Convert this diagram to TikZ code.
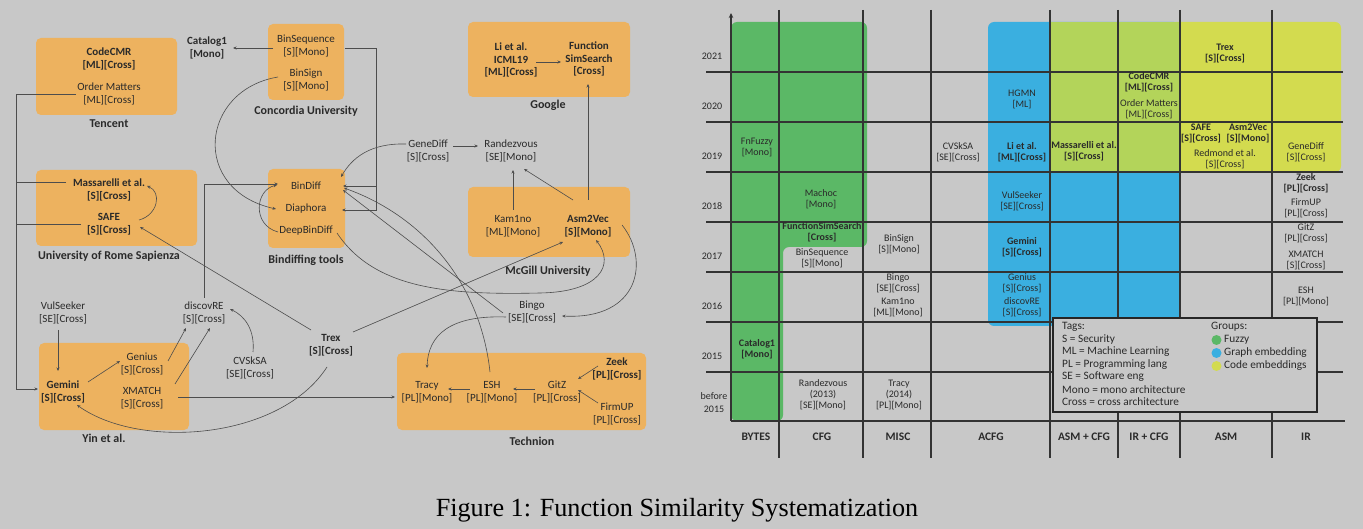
\documentclass[tikz,border=0pt]{standalone}
\usepackage{fontspec}
\setmainfont{Carlito}
\newfontfamily\capfont{Liberation Serif}
\usetikzlibrary{arrows.meta,calc}
\definecolor{bgc}{HTML}{C8C8C8}
\definecolor{orangebox}{HTML}{EDB25F}
\definecolor{gfill}{HTML}{5BB866}
\definecolor{bfill}{HTML}{3AAFE0}
\definecolor{ygfill}{HTML}{B3D45A}
\definecolor{yfill}{HTML}{D3DB4F}
\definecolor{txt}{HTML}{2A2A2A}
\definecolor{lc}{HTML}{4D4D4D}
\definecolor{gridc}{HTML}{333333}
\begin{document}
\begin{tikzpicture}[x=1pt,y=-1pt,
  lbl/.style={font=\fontsize{11}{12.8}\selectfont, align=center, inner sep=0pt, text=txt},
  blbl/.style={lbl, font=\fontsize{11}{12.8}\selectfont\bfseries},
  glbl/.style={font=\fontsize{12}{14}\selectfont\bfseries, inner sep=0pt, text=txt},
  cell/.style={font=\fontsize{10}{11}\selectfont, align=center, inner sep=0pt, text=txt},
  bcell/.style={cell, font=\fontsize{10}{11}\selectfont\bfseries},
  yr/.style={font=\fontsize{10}{13}\selectfont, align=center, inner sep=0pt, text=txt},
  colh/.style={font=\fontsize{11.5}{13}\selectfont\bfseries, inner sep=0pt, text=txt},
  leg/.style={font=\fontsize{11.3}{13}\selectfont, anchor=west, inner sep=0pt, text=txt},
  conn/.style={draw=lc, line width=0.6pt, -{Stealth[length=3.5pt,width=3pt]}},
  pl/.style={draw=lc, line width=0.6pt},
  gridl/.style={draw=gridc, line width=1.1pt},
  grp/.style={fill=orangebox, rounded corners=5pt}]
\useasboundingbox (0,0) rectangle (1363,529);
\fill[bgc] (0,0) rectangle (1363,529);

% ================= LEFT: groups =================
\fill[grp] (36,38) rectangle (177,115);
\fill[grp] (268,24) rectangle (344,100);
\fill[grp] (468,22) rectangle (630,97);
\fill[grp] (36,170) rectangle (197,246);
\fill[grp] (268,169) rectangle (345,248);
\fill[grp] (468,187) rectangle (630,257);
\fill[grp] (39,343) rectangle (189,430);
\fill[grp] (397,353) rectangle (646,430);

% nodes
\node[blbl] (codecmr) at (109,59) {CodeCMR\\{[ML][Cross]}};
\node[lbl] (ordermat) at (109,94) {Order Matters\\{[ML][Cross]}};
\node[glbl] (tencentL) at (109,124) {Tencent};
\node[blbl] (catalog) at (207,48) {Catalog1\\{[Mono]}};
\node[lbl] (binseq) at (306,46) {BinSequence\\{[S][Mono]}};
\node[lbl] (binsign) at (306,80) {BinSign\\{[S][Mono]}};
\node[glbl] (concordiaL) at (306,111) {Concordia University};
\node[blbl] (liicml) at (511,60) {Li et al.\\ICML19\\{[ML][Cross]}};
\node[blbl] (funcsim) at (589,59) {Function\\SimSearch\\{[Cross]}};
\node[glbl] (googleL) at (548,105) {Google};
\node[blbl] (massarelli) at (109,190) {Massarelli et al.\\{[S][Cross]}};
\node[blbl] (safe) at (109,224) {SAFE\\{[S][Cross]}};
\node[glbl] (romeL) at (109,256) {University of Rome Sapienza};
\node[lbl] (bindiff) at (306,186) {BinDiff};
\node[lbl] (diaphora) at (306,209) {Diaphora};
\node[lbl] (deepbindiff) at (306,231) {DeepBinDiff};
\node[glbl] (bindiffL) at (306,260) {Bindiffing tools};
\node[lbl] (genediff) at (428,151) {GeneDiff\\{[S][Cross]}};
\node[lbl] (randez) at (511,151) {Randezvous\\{[SE][Mono]}};
\node[lbl] (kam1no) at (513,226) {Kam1no\\{[ML][Mono]}};
\node[blbl] (asm2vec) at (588,226) {Asm2Vec\\{[S][Mono]}};
\node[glbl] (mcgillL) at (548,271) {McGill University};
\node[lbl] (vulseeker) at (63,313) {VulSeeker\\{[SE][Cross]}};
\node[lbl] (discovre) at (204,313) {discovRE\\{[S][Cross]}};
\node[blbl] (gemini) at (63,392) {Gemini\\{[S][Cross]}};
\node[lbl] (genius) at (142,364) {Genius\\{[S][Cross]}};
\node[lbl] (xmatch) at (142,398) {XMATCH\\{[S][Cross]}};
\node[glbl] (yinL) at (104,438) {Yin et al.};
\node[lbl] (cvsksa) at (250,368) {CVSkSA\\{[SE][Cross]}};
\node[blbl] (trex) at (331,345) {Trex\\{[S][Cross]}};
\node[lbl] (bingo) at (532,312) {Bingo\\{[SE][Cross]}};
\node[lbl] (tracy) at (427,392) {Tracy\\{[PL][Mono]}};
\node[lbl] (esh) at (492,392) {ESH\\{[PL][Mono]}};
\node[lbl] (gitz) at (557,392) {GitZ\\{[PL][Cross]}};
\node[blbl] (zeek) at (617,369) {Zeek\\{[PL][Cross]}};
\node[lbl] (firmup) at (617,414) {FirmUP\\{[PL][Cross]}};
\node[glbl] (technionL) at (532,441) {Technion};

% helper coordinates
\coordinate (busTop) at (376,48);
\coordinate (busMid) at (376,186);
\coordinate (busBot) at (376,210);
\coordinate (lbTop) at (16,94);
\coordinate (lbM) at (16,182);
\coordinate (lbS) at (16,224);
\coordinate (lbBot) at (16,389);
\coordinate (dcorner) at (204,184);

% edges
\draw[conn] ($(binseq)+(-33,2)$) -- ($(catalog)+(26,0)$);
\draw[conn] ($(binseq)+(39,2)$) -- (busTop) -- (busMid) -- ($(bindiff)+(37,0)$);
\draw[conn] (busMid) -- (busBot) -- ($(diaphora)+(36,1)$);
\draw[conn] ($(binsign)+(-28,-3)$) .. controls (200,90) and (190,190) .. ($(diaphora)+(-30,0)$);
\draw[conn] ($(genediff)+(-22,-7)$) .. controls (370,143) and (352,158) .. ($(bindiff)+(35,-9)$);
\draw[conn] ($(genediff)+(25,-5)$) -- ($(randez)+(-33,-5)$);
\draw[conn] ($(kam1no)+(0,-16)$) -- ($(randez)+(2,19)$);
\draw[conn] ($(asm2vec)+(-15,-26)$) -- ($(randez)+(13,18)$);
\draw[conn] ($(asm2vec)+(0,-26)$) -- ($(funcsim)+(-1,25)$);
\draw[conn] ($(liicml)+(25,2)$) -- ($(funcsim)+(-28,3)$);
\draw[conn] ($(safe)+(30,-4)$) .. controls (158,215) and (162,192) .. ($(massarelli)+(38,-4)$);
\draw[conn] ($(ordermat)+(-33,0)$) -- (lbTop) -- (lbBot) -- ($(gemini)+(-25,-3)$);
\draw[pl] ($(massarelli)+(-43,-8)$) -- (lbM);
\draw[pl] ($(safe)+(-28,0)$) -- (lbS);
\draw[conn] ($(discovre)+(0,-15)$) -- (dcorner) -- ($(bindiff)+(-28,-2)$);
\draw[conn] ($(deepbindiff)+(-28,1)$) .. controls (252,225) and (255,190) .. ($(bindiff)+(-29,-1)$);
\draw[conn] ($(deepbindiff)+(31,2)$) .. controls (375,290) and (450,295) .. (540,293) .. controls (600,292) and (615,265) .. ($(asm2vec)+(8,14)$);
\draw[conn] ($(bingo)+(-29,1)$) -- ($(bindiff)+(37,4)$);
\draw[conn] ($(esh)+(-2,-20)$) .. controls (480,280) and (420,215) .. ($(bindiff)+(38,2)$);
\draw[conn] ($(trex)+(-20,-15)$) -- ($(safe)+(31,3)$);
\draw[conn] ($(trex)+(22,-13)$) -- ($(asm2vec)+(-25,16)$);
\draw[conn] ($(trex)+(-4,22)$) .. controls (280,440) and (140,450) .. ($(gemini)+(14,13)$);
\draw[conn] ($(asm2vec)+(34,-1)$) .. controls (650,260) and (640,320) .. ($(bingo)+(30,4)$);
\draw[conn] ($(bingo)+(-26,5)$) .. controls (450,315) and (428,335) .. ($(tracy)+(0,-24)$);
\draw[conn] ($(gitz)+(-22,-3)$) -- ($(esh)+(21,-3)$);
\draw[conn] ($(esh)+(-22,-3)$) -- ($(tracy)+(21,-3)$);
\draw[conn] ($(zeek)+(-19,-3)$) -- ($(gitz)+(21,-13)$);
\draw[conn] ($(firmup)+(-19,-11)$) -- ($(gitz)+(21,-2)$);
\draw[conn] ($(xmatch)+(36,-1)$) -- ($(tracy)+(-32,5)$);
\draw[conn] ($(gemini)+(25,-10)$) -- ($(genius)+(-22,-3)$);
\draw[conn] ($(genius)+(26,-3)$) -- ($(discovre)+(-18,15)$);
\draw[conn] ($(xmatch)+(33,-14)$) -- ($(discovre)+(6,15)$);
\draw[conn] ($(cvsksa)+(3,-16)$) .. controls (255,330) and (245,316) .. ($(discovre)+(26,-4)$);
\draw[conn] ($(vulseeker)+(-5,17)$) -- ($(gemini)+(-5,-21)$);

% ================= RIGHT: timeline grid =================
\fill[gfill, rounded corners=6pt] (731,22) -- (867,22) -- (867,247) -- (783,247) -- (783,421) -- (731,421) -- cycle;
\fill[bfill, rounded corners=6pt] (988,22) rectangle (1180,326);
\fill[yfill, rounded corners=6pt] (1170,22) rectangle (1341,172);
\fill[ygfill] (1050,22) rectangle (1180,172);

\foreach \yy in {72,122,172,222,272,322,372} \draw[gridl] (706,\yy) -- (1343,\yy);
\draw[draw=gridc, line width=1.6pt] (731,421) -- (1345,421);
\foreach \xx in {779,863,931,1050,1118,1180,1272} \draw[gridl] (\xx,10) -- (\xx,458);
\draw[draw=gridc, line width=1.6pt, -{Stealth[length=5pt,width=4.5pt]}] (731,421) -- (731,13);

% legend
\draw[fill=bgc, draw=black!85, line width=1.3pt] (1053,318) rectangle (1317,412);
\node[leg] (tags) at (1062,327) {Tags:};
\node[leg] (tS) at (1062,340) {S = Security};
\node[leg] (tML) at (1062,352) {ML = Machine Learning};
\node[leg] (tPL) at (1062,365) {PL = Programming lang};
\node[leg] (tSE) at (1062,377) {SE = Software eng};
\node[leg] (tMono) at (1062,390) {Mono = mono architecture};
\node[leg] (tCross) at (1062,402) {Cross = cross architecture};
\node[leg] (groups) at (1211,327) {Groups:};
\node[circle, fill=gfill, minimum size=10pt, inner sep=0pt] (dfz) at (1216.5,340) {};
\node[circle, fill=bfill, minimum size=10pt, inner sep=0pt] (dge) at (1216.5,353) {};
\node[circle, fill=yfill, minimum size=10pt, inner sep=0pt] (dce) at (1216.5,366) {};
\node[leg] (gfz) at (1224,340) {Fuzzy};
\node[leg] (gge) at (1224,353) {Graph embedding};
\node[leg] (gce) at (1224,366) {Code embeddings};

% years
\node[yr] (y21) at (712,56) {2021};
\node[yr] (y20) at (712,106) {2020};
\node[yr] (y19) at (712,156) {2019};
\node[yr] (y18) at (712,206) {2018};
\node[yr] (y17) at (712,256) {2017};
\node[yr] (y16) at (712,306) {2016};
\node[yr] (y15) at (712,356) {2015};
\node[yr] (ybef) at (714,403) {before\\2015};

% column heads
\node[colh] (hb) at (756,437) {BYTES};
\node[colh] (hc) at (822,437) {CFG};
\node[colh] (hm) at (898,437) {MISC};
\node[colh] (ha) at (991,437) {ACFG};
\node[colh] (hac) at (1084,437) {ASM + CFG};
\node[colh] (hic) at (1149,437) {IR + CFG};
\node[colh] (hasm) at (1226,437) {ASM};
\node[colh] (hir) at (1306,437) {IR};

% cells
\node[cell] (rfnfuzzy) at (757,147) {FnFuzzy\\{[Mono]}};
\node[bcell] (rcatalog) at (757,349) {Catalog1\\{[Mono]}};
\node[cell] (rmachoc) at (821,199) {Machoc\\{[Mono]}};
\node[bcell] (rfss) at (822,232) {FunctionSimSearch\\{[Cross]}};
\node[cell] (rbinseq) at (822,258) {BinSequence\\{[S][Mono]}};
\node[cell] (rrandez) at (823,395) {Randezvous\\(2013)\\{[SE][Mono]}};
\node[cell] (rbinsign) at (899,244) {BinSign\\{[S][Mono]}};
\node[cell] (rbingo) at (898,283) {Bingo\\{[SE][Cross]}};
\node[cell] (rkam1no) at (898,307.5) {Kam1no\\{[ML][Mono]}};
\node[cell] (rtracy) at (899,395) {Tracy\\(2014)\\{[PL][Mono]}};
\node[cell] (rcvsksa) at (958,152) {CVSkSA\\{[SE][Cross]}};
\node[cell] (rhgmn) at (1022,99) {HGMN\\{[ML]}};
\node[bcell] (rli) at (1022,152) {Li et al.\\{[ML][Cross]}};
\node[cell] (rvulseeker) at (1022,201) {VulSeeker\\{[SE][Cross]}};
\node[bcell] (rgemini) at (1022,247) {Gemini\\{[S][Cross]}};
\node[cell] (rgenius) at (1022,283) {Genius\\{[S][Cross]}};
\node[cell] (rdiscovre) at (1022,307.5) {discovRE\\{[S][Cross]}};
\node[bcell] (rmassarelli) at (1084,151) {Massarelli et al.\\{[S][Cross]}};
\node[bcell] (rcodecmr) at (1149,82) {CodeCMR\\{[ML][Cross]}};
\node[cell] (rordermat) at (1149,109) {Order Matters\\{[ML][Cross]}};
\node[bcell] (rtrex) at (1225,53) {Trex\\{[S][Cross]}};
\node[bcell] (rsafe) at (1201,133) {SAFE\\{[S][Cross]}};
\node[bcell] (rasm2vec) at (1248,133) {Asm2Vec\\{[S][Mono]}};
\node[cell] (rredmond) at (1225,159) {Redmond et al.\\{[S][Cross]}};
\node[cell] (rgenediff) at (1306,152) {GeneDiff\\{[S][Cross]}};
\node[bcell] (rzeek) at (1306,183) {Zeek\\{[PL][Cross]}};
\node[cell] (rfirmup) at (1306,208) {FirmUP\\{[PL][Cross]}};
\node[cell] (rgitz) at (1306,233) {GitZ\\{[PL][Cross]}};
\node[cell] (rxmatch) at (1306,260) {XMATCH\\{[S][Cross]}};
\node[cell] (resh) at (1306,296) {ESH\\{[PL][Mono]}};

% caption
\node[font=\capfont\fontsize{26.2}{30}\selectfont, text=black, inner sep=0pt, anchor=base] (caption) at (677,516) {Figure 1: Function Similarity Systematization};
\end{tikzpicture}
\end{document}
